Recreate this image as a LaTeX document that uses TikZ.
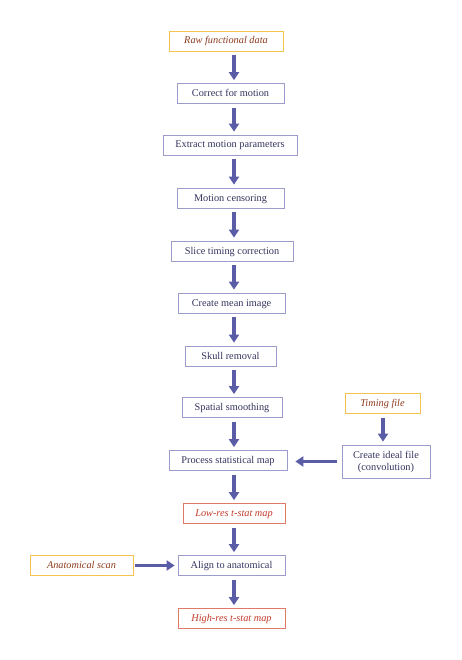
\documentclass[tikz,border=0pt]{standalone}
\usepackage{fontspec}
\setmainfont{Liberation Serif}
\usetikzlibrary{arrows.meta}
\definecolor{arrowblue}{HTML}{5A5CA6}
\definecolor{boxblue}{HTML}{9C9CCC}
\definecolor{textblue}{HTML}{33335E}
\definecolor{inorange}{HTML}{F2C44F}
\definecolor{inbrown}{HTML}{8E3A1E}
\definecolor{outred}{HTML}{E07A68}
\definecolor{outtext}{HTML}{C43A2A}
\begin{document}
\begin{tikzpicture}[x=1pt,y=-1pt,
  base/.style={draw=boxblue, line width=0.8pt, text=textblue, minimum height=20pt, inner sep=0pt, align=center, font=\fontsize{10.3}{12}\selectfont},
  box/.style={base, text height=8pt, text depth=2pt},
  inbox/.style={box, draw=inorange, text=inbrown, font=\fontsize{10.3}{12}\selectfont\itshape},
  outbox/.style={box, draw=outred, text=outtext, font=\fontsize{10.3}{12}\selectfont\itshape},
  arr/.style={-{Triangle[width=10pt,length=8pt]}, line width=3.2pt, draw=arrowblue},
  varr/.style={arr, shorten <=4pt, shorten >=3pt}
]
\useasboundingbox (0,0) rectangle (462,660);
\node[inbox, minimum width=114pt] (raw) at (226,41) {Raw functional data};
\node[box, minimum width=107pt] (correct) at (230.5,93.5) {Correct for motion};
\node[box, minimum width=134pt] (extract) at (230,145) {Extract motion parameters};
\node[box, minimum width=107pt] (censor) at (230.5,198) {Motion censoring};
\node[box, minimum width=122pt] (slice) at (232,251) {Slice timing correction};
\node[box, minimum width=107pt] (mean) at (231.5,303) {Create mean image};
\node[box, minimum width=91pt] (skull) at (230.5,356) {Skull removal};
\node[box, minimum width=100pt] (spatial) at (232,407.5) {Spatial smoothing};
\node[box, minimum width=118pt] (process) at (228,460.5) {Process statistical map};
\node[outbox, minimum width=102pt] (low) at (234,513.5) {Low-res t-stat map};
\node[box, minimum width=107pt] (align) at (231.5,565.5) {Align to anatomical};
\node[outbox, minimum width=107pt] (high) at (231.5,618.5) {High-res t-stat map};
\node[inbox, minimum width=75pt] (timing) at (382.5,403.5) {Timing file};
\node[base, minimum width=88pt, minimum height=33pt] (ideal) at (386,461.5) {Create ideal file\\(convolution)};
\node[inbox, minimum width=103pt] (anat) at (81.5,565.5) {Anatomical scan};
\foreach \a/\b in {raw/correct,correct/extract,extract/censor,censor/slice,slice/mean,mean/skull,skull/spatial,spatial/process,process/low,low/align,align/high}
  \draw[varr] (\a.south -| 234,0) -- (\b.north -| 234,0);
\draw[arr, shorten <=4pt, shorten >=3pt] (timing.south -| 383,0) -- (ideal.north -| 383,0);
\draw[arr, shorten <=5pt, shorten >=8pt] (ideal.west) -- (ideal.west -| process.east);
\draw[arr, shorten <=2pt, shorten >=3pt] (anat.east) -- (align.west);
\end{tikzpicture}
\end{document}
